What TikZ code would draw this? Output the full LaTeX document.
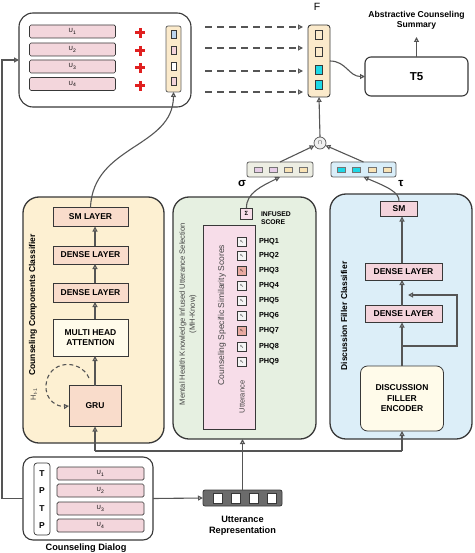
\documentclass[tikz,border=0pt]{standalone}
\usepackage{fontspec}
\setmainfont{Liberation Sans}
\usetikzlibrary{arrows.meta,calc}
\definecolor{linec}{HTML}{555555}
\definecolor{boxc}{HTML}{383838}
\definecolor{peach}{HTML}{F9DCCB}
\definecolor{pinkU}{HTML}{F3D6DC}
\definecolor{pinkL}{HTML}{F4D4DC}
\definecolor{cccfill}{HTML}{FDF0D2}
\definecolor{mhfill}{HTML}{E6F0E1}
\definecolor{dfcfill}{HTML}{DCEEF8}
\definecolor{innerpink}{HTML}{F7DDE9}
\definecolor{cream}{HTML}{FFFBEA}
\definecolor{beige}{HTML}{FBEACB}
\definecolor{sqblue}{HTML}{BCD4EE}
\definecolor{sqpink}{HTML}{F2D2DA}
\definecolor{cyanc}{HTML}{1ED8E6}
\definecolor{lav}{HTML}{E6CDE6}
\definecolor{sqbeige}{HTML}{F9E3B5}
\definecolor{sigbar}{HTML}{EDEEE3}
\definecolor{taubar}{HTML}{D9EEF9}
\definecolor{sred}{HTML}{E8A9A0}
\definecolor{sgray}{HTML}{F4F4F4}
\definecolor{crossred}{HTML}{E02020}
\definecolor{urgray}{HTML}{6B6B6B}
\definecolor{txtgray}{HTML}{444444}
\begin{document}
\begin{tikzpicture}[x=1pt,y=-1pt,
  every node/.style={inner sep=0pt, outer sep=0pt},
  ln/.style={draw=linec, line width=1.1pt},
  arr/.style={draw=linec, line width=1.1pt, -{Triangle[open,length=5pt,width=5pt]}},
  darr/.style={arr, dash pattern=on 7pt off 5pt},
  dloop/.style={arr, dash pattern=on 4pt off 3pt},
  bigbox/.style={draw=boxc, line width=1.3pt, rounded corners=16pt},
  layer/.style={draw=boxc, line width=0.8pt, align=center, font=\bfseries\fontsize{8.5}{10.5}\selectfont},
  urow/.style={draw=boxc, line width=0.7pt, fill=pinkU, rounded corners=1.5pt, minimum width=86pt, minimum height=13pt, font=\fontsize{6}{6}\selectfont},
  sq/.style={draw=boxc, line width=0.5pt, minimum width=6pt, minimum height=8pt},
  bsq/.style={draw=boxc!70, line width=0.5pt, minimum width=8pt, minimum height=5pt},
  bt/.style={font=\bfseries\fontsize{9.2}{10.5}\selectfont, align=center},
  vt/.style={font=\bfseries\fontsize{8.5}{10}\selectfont, align=center},
  phq/.style={font=\bfseries\fontsize{7.3}{8}\selectfont, anchor=west},
  sbx/.style={draw=boxc, line width=0.5pt, minimum width=9pt, minimum height=9pt, font=\fontsize{3}{3}\selectfont}
]
\useasboundingbox (0,0) rectangle (474,553);

% ---------- big containers ----------
\node[bigbox, fill=cccfill, minimum width=141pt, minimum height=246pt] (ccc) at (93.5,320) {};
\node[bigbox, fill=mhfill, minimum width=143pt, minimum height=242pt] (mh) at (244.5,318) {};
\node[bigbox, fill=dfcfill, minimum width=142pt, minimum height=245pt] (dfc) at (401,316.5) {};

% ---------- counseling components classifier ----------
\node[layer, fill=peach, minimum width=75pt, minimum height=19pt] (sml) at (90.5,217) {SM LAYER};
\node[layer, fill=peach, minimum width=75pt, minimum height=18pt] (dl1) at (90.5,255) {DENSE LAYER};
\node[layer, fill=peach, minimum width=75pt, minimum height=19pt] (dl2) at (90.5,292.5) {DENSE LAYER};
\node[layer, fill=cream, minimum width=75pt, minimum height=37pt] (mha) at (90.5,337.5) {MULTI HEAD\\ATTENTION};
\node[layer, fill=peach, minimum width=52pt, minimum height=41pt] (gru) at (95,406) {GRU};
\draw[arr] (gru.north) -- (gru.north |- mha.south);
\draw[arr] (gru.north |- mha.north) -- (gru.north |- dl2.south);
\draw[arr] (gru.north |- dl2.north) -- (gru.north |- dl1.south);
\draw[arr] (gru.north |- dl1.north) -- (gru.north |- sml.south);
\coordinate (loopstart) at (89,378);
\draw[dloop] (loopstart) .. controls (80,358) and (48,360) .. (46,385) .. controls (45,401) and (58,407) .. (gru.west);
\node[rotate=90, font=\fontsize{7.5}{8}\selectfont, text=txtgray] (hlab) at (34,394) {H\textsubscript{t-1}};
\node[rotate=90, vt] (ccclab) at (33,305) {Counseling Components Classifier};

% ---------- MH-Know ----------
\node[draw=boxc, line width=0.8pt, fill=innerpink, minimum width=52pt, minimum height=204pt] (inner) at (229,327) {};
\node[draw=boxc, line width=0.6pt, fill=innerpink, minimum width=12pt, minimum height=11pt, font=\bfseries\fontsize{6}{6}\selectfont] (sigm) at (246.5,213.5) {Σ};
\node[anchor=west, align=left, font=\bfseries\fontsize{6.8}{8.5}\selectfont] (inf) at (261,218) {INFUSED\\SCORE};
\foreach \i/\yy/\c in {1/242/sgray,2/256/sgray,3/271/sred,4/286/sgray,5/301/sgray,6/316/sgray,7/331/sred,8/347/sgray,9/362/sgray}{
  \node[sbx, fill=\c] (s\i) at (242,\yy) {S\textsubscript{\i}};
  \node[phq] (p\i) at (259,\yy) {PHQ\i};
}
\node[rotate=90, align=center, font=\fontsize{7.6}{10}\selectfont, text=txtgray] (mhlab) at (188,314) {Mental Health Knowledge Infused Utterance Selection\\(MH-Know)};
\node[rotate=90, font=\fontsize{8.5}{10}\selectfont, text=txtgray] (csss) at (222,315) {Counseling Specific Similarity Scores};
\node[rotate=90, font=\fontsize{7.5}{9}\selectfont, text=txtgray] (utt) at (242,397) {Utterance};

% ---------- discussion filler classifier ----------
\node[layer, fill=pinkL, minimum width=37pt, minimum height=15pt] (dsm) at (399,209) {SM};
\node[layer, fill=pinkL, minimum width=77pt, minimum height=17pt] (dd1) at (403.5,271.5) {DENSE LAYER};
\node[layer, fill=pinkL, minimum width=77pt, minimum height=17pt] (dd2) at (403.5,314) {DENSE LAYER};
\node[layer, fill=cream, rounded corners=7pt, minimum width=83pt, minimum height=65pt] (enc) at (402,398.5) {DISCUSSION\\FILLER\\ENCODER};
\draw[arr] (enc.north) -- (enc.north |- dd2.south);
\draw[arr] (enc.north |- dd2.north) -- (enc.north |- dd1.south);
\draw[arr] (enc.north |- dd1.north) -- (enc.north |- dsm.south);
\coordinate (skA) at (402,346);
\coordinate (skB) at (408,295);
\draw[arr] (skA) -| (457,295) -- (skB);
\node[rotate=90, vt] (dfclab) at (344,316) {Discussion Filler Classifier};

% ---------- sigma / tau / intersection ----------
\node[draw=boxc!80, line width=0.8pt, fill=sigbar, rounded corners=2pt, minimum width=66pt, minimum height=15pt] (sig) at (280,169.5) {};
\foreach \xx/\c [count=\k] in {258/lav,273/lav,288/sqbeige,303/sqbeige}
  \node[bsq, fill=\c] (sg\k) at (\xx,169.5) {};
\node[draw=boxc!80, line width=0.8pt, fill=taubar, rounded corners=2pt, minimum width=65pt, minimum height=15pt] (tau) at (363.5,169.5) {};
\foreach \xx/\c [count=\k] in {341/cyanc,356/cyanc,372/sqbeige,387/sqbeige}
  \node[bsq, fill=\c] (tg\k) at (\xx,169.5) {};
\node[font=\bfseries\fontsize{11.5}{11}\selectfont] (siglab) at (242,184) {σ};
\node[font=\bfseries\fontsize{11.5}{11}\selectfont] (taulab) at (401,184) {τ};
\node[circle, draw=linec, line width=0.7pt, fill=gray!12, minimum size=12pt, font=\fontsize{6}{6}\selectfont] (cap) at (320,143) {$\cap$};
\draw[arr] (sig.north) -- (cap);
\draw[arr] (tau.north) -- (cap);
\draw[arr] (sigm.north) .. controls (246,193) and (262,186) .. (sig.south);
\draw[arr] (dsm.north) .. controls (400,192) and (385,186) .. (tau.south);

% ---------- top: utterances + F + T5 ----------
\node[draw=boxc, line width=1.1pt, rounded corners=14pt, minimum width=172pt, minimum height=94pt] (top) at (105,60) {};
\foreach \yy [count=\k] in {31.5,49.5,66.5,84}
  \node[urow] (tu\k) at (72.5,\yy) {U\textsubscript{\k}};
\foreach \yy in {33,51,68,86}
  \draw[crossred, line width=3pt] (135,\yy) -- (145,\yy) (140,\yy-5) -- (140,\yy+5);
\node[draw=boxc!80, line width=0.8pt, fill=beige, rounded corners=2pt, minimum width=15pt, minimum height=66pt] (sbar) at (173.5,59) {};
\foreach \yy/\c [count=\k] in {34.5/sqblue,50/sqpink,66/white,81/sqpink}
  \node[sq, minimum width=5pt, fill=\c] (sb\k) at (173.5,\yy) {};
\draw[arr] (sml.north) .. controls (93,145) and (173,148) .. (sbar.south);

\node[draw=boxc, line width=0.9pt, fill=beige, rounded corners=3pt, minimum width=22pt, minimum height=72pt] (fbar) at (319,61) {};
\foreach \yy/\c [count=\k] in {34.5/beige,51.5/beige,69.5/cyanc,84.5/cyanc}
  \node[sq, minimum width=7pt, minimum height=9pt, fill=\c] (fb\k) at (319,\yy) {};
\node[font=\fontsize{10.5}{10}\selectfont] (flab) at (317,7) {F};
\foreach \yy [count=\k] in {27,48,71,92}{
  \coordinate (ds\k) at (205,\yy);
  \draw[darr, shorten >=5pt] (ds\k) -- (ds\k -| fbar.west);
}
\draw[arr] (cap.north) -- (fbar.south);

\node[draw=boxc, line width=1.1pt, rounded corners=6pt, minimum width=103pt, minimum height=39pt, font=\bfseries\fontsize{11.5}{11}\selectfont] (t5) at (416.5,76.5) {T5};
\draw[arr] (fbar.east) .. controls +(16,0) and +(-16,0) .. (t5.west);
\node[bt, font=\bfseries\fontsize{8.6}{10}\selectfont] (summ) at (416.5,20) {Abstractive Counseling\\Summary};
\coordinate (sumb) at (416.5,37);
\draw[arr] (t5.north) -- (sumb);

% ---------- bottom: dialog + utterance representation ----------
\node[draw=boxc, line width=1.1pt, rounded corners=10pt, minimum width=130pt, minimum height=83pt] (cd) at (88,498.5) {};
\node[draw=boxc, line width=0.7pt, fill=white, rounded corners=3pt, minimum width=16pt, minimum height=72pt] (tp) at (42,499) {};
\foreach \yy/\l [count=\k] in {473.5/T,490.5/P,508.5/T,525.5/P}{
  \node[font=\bfseries\fontsize{8.5}{8}\selectfont] (tpl\k) at (42,\yy) {\l};
  \node[urow, minimum width=87pt] (du\k) at (100.5,\yy) {U\textsubscript{\k}};
}
\node[bt] (cdlab) at (86,548) {Counseling Dialog};

\node[draw=boxc, line width=0.8pt, fill=urgray, rounded corners=2pt, minimum width=79pt, minimum height=16pt] (ur) at (242.5,498) {};
\foreach \xx [count=\k] in {218,236,253.5,271.5}
  \node[draw=boxc, line width=0.4pt, fill=white, minimum width=9pt, minimum height=10pt] (ursq\k) at (\xx,498) {};
\node[bt] (urlab) at (242.5,526) {Utterance\\Representation};
\draw[arr] (cd.east) -- (ur.west);

% left feedback line
\coordinate (lb) at (2,498.5);
\coordinate (lt) at (2,60);
\draw[arr, line width=1.5pt] (cd.west) -- (lb) -- (lt) -- (top.west);

% bottom distribution line
\coordinate (bl) at (95,451);
\coordinate (br) at (402,451);
\draw[ln] (bl) -- (br);
\draw[arr] (bl) -- (gru.south);
\draw[arr] (br) -- (enc.south);
\draw[arr] (ur.north) -- (ur.north |- mh.south);
\end{tikzpicture}
\end{document}
